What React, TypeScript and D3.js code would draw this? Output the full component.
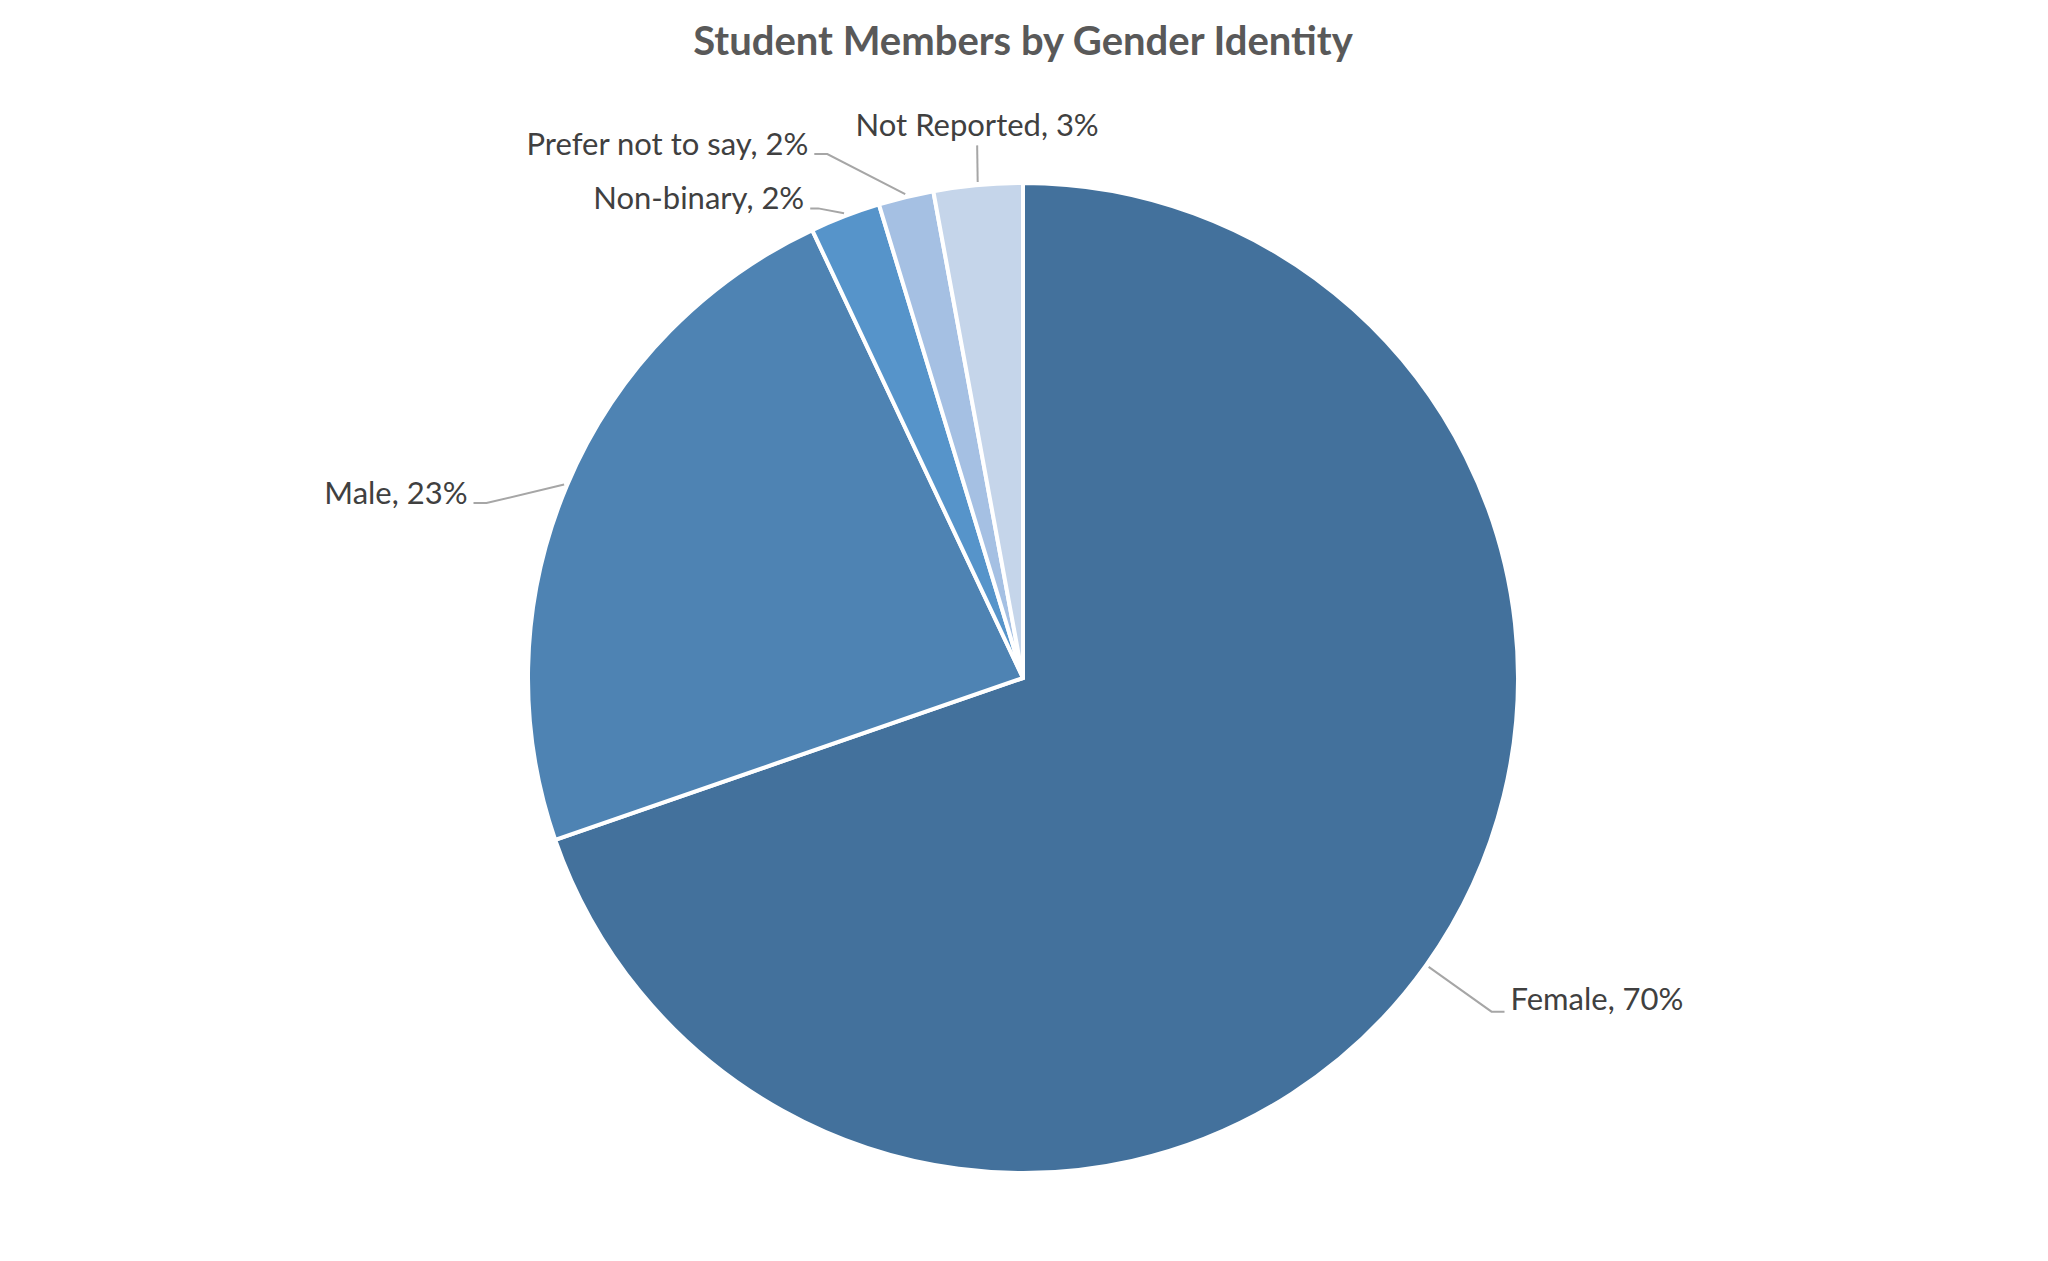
import React from 'react';
import { arc, pie, PieArcDatum } from 'd3';

const width = 2048;
const height = 1261;

const title = 'Student Members by Gender Identity';

const categories = ['Female', 'Male', 'Non-binary', 'Prefer not to say', 'Not Reported'];
const shares = [69.7, 23.3, 2.3, 1.8, 2.9];
const colors = ['#43719c', '#4e83b3', '#5694ca', '#a5c0e3', '#c5d5ea'];

// label elbow: radius factor and angle nudge (deg) from the slice middle
const labelRadius = [1.162, 1.14, 1.035, 1.13, 1.08];
const labelAngleShift = [0, -4.8, -2.5, -6.8, 0.3];
const tailLength = [13, 13, 8, 13, 0];

const cx = 1023;
const cy = 678;
const radius = 495;

type Slice = { name: string; value: number; color: string };

const data: Slice[] = categories.map((name, i) => ({ name, value: shares[i], color: colors[i] }));

function App() {
  const pieGen = pie<Slice>().value(d => d.value).sort(null);
  const arcs = pieGen(data);
  const arcGen = arc<PieArcDatum<Slice>>().innerRadius(0).outerRadius(radius);
  const total = shares.reduce((a, b) => a + b, 0);

  const polar = (ang: number, r: number) => [Math.sin(ang) * r, -Math.cos(ang) * r];

  return (
    <svg width={width} height={height} style={{ position: 'absolute', left: 0, top: 0 }}>
      <rect width={width} height={height} fill="#fff" />
      <text
        x={cx}
        y={55}
        textAnchor="middle"
        fontFamily="Lato, 'Open Sans', sans-serif"
        fontWeight={700}
        fontSize={40}
        fill="#595959"
      >
        {title}
      </text>
      <g transform={`translate(${cx}, ${cy})`}>
        {arcs.map(a => (
          <path key={a.data.name} d={arcGen(a)!} fill={a.data.color} stroke="#fff" strokeWidth={4} strokeLinejoin="round" />
        ))}
        {arcs.map((a, i) => {
          const mid = (a.startAngle + a.endAngle) / 2;
          const [sx, sy] = polar(mid, radius + 3);
          const [ex, ey] = polar(mid + (labelAngleShift[i] * Math.PI) / 180, radius * labelRadius[i]);
          const right = Math.sin(mid) > 0;
          const vertical = tailLength[i] === 0;
          const tail = right ? tailLength[i] : -tailLength[i];
          const pct = Math.round((a.data.value / total) * 100);
          const label = `${a.data.name}, ${pct}%`;
          let tx = ex + tail + (right ? 6 : -6);
          let ty = ey + (right ? -2 : 1);
          let anchor: 'start' | 'end' | 'middle' = right ? 'start' : 'end';
          if (vertical) {
            tx = ex;
            ty = ey - 9;
            anchor = 'middle';
          }
          return (
            <g key={a.data.name}>
              <polyline
                points={`${sx},${sy} ${ex},${ey} ${ex + tail},${ey}`}
                fill="none"
                stroke="#a6a6a6"
                strokeWidth={2}
              />
              <text
                x={tx}
                y={ty}
                textAnchor={anchor}
                fontFamily="Lato, 'Open Sans', sans-serif"
                fontSize={31}
                fill="#404040"
              >
                {label}
              </text>
            </g>
          );
        })}
      </g>
    </svg>
  );
}

export default App;
